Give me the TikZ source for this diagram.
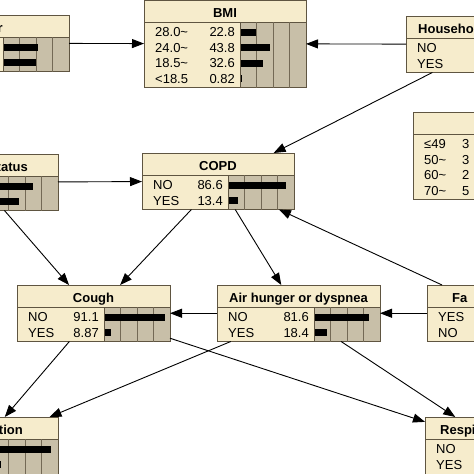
\documentclass[tikz,border=0pt]{standalone}
\usepackage{fontspec}
\setmainfont{Liberation Sans}
\usepackage{tikz}
\usetikzlibrary{positioning,arrows.meta,calc}
\definecolor{nodecol}{RGB}{246,236,204}
\definecolor{barcol}{RGB}{200,191,168}
\definecolor{framecol}{RGB}{95,85,65}
\definecolor{tickcol}{RGB}{115,105,85}

\begin{document}
\begin{tikzpicture}[
  x=1pt, y=-1pt,
  bn/.style={rectangle, draw=framecol, fill=nodecol, line width=1pt, inner sep=0pt,
             outer sep=0pt, minimum width=#1, minimum height=56.5pt},
  ttl/.style={font=\fontsize{13}{15}\selectfont\bfseries, inner sep=0pt, text height=9.3pt, text depth=0pt},
  st/.style={font=\fontsize{13}{15}\selectfont, inner sep=0pt, text height=9.3pt, text depth=0pt},
  hdr/.style={draw=framecol, line width=1pt},
  colline/.style={draw=tickcol, line width=0.7pt},
  ar/.style={-{Triangle[length=12pt, width=9pt]}, line width=0.9pt, black}
]
\useasboundingbox (0,0) rectangle (474,474);
\clip (0,0) rectangle (474,474);

% header rule, bar area and quarter lines of one node
\def\bnbox#1{%
  \draw[hdr] ($(#1.north west)+(0,22)$) -- ($(#1.north east)+(0,22)$);
  \draw[hdr, fill=barcol] ($(#1.north east)+(-66,22)$) rectangle (#1.south east);
  \foreach \q in {1,2,3}
    \draw[colline] ($(#1.north east)+({-66+16.5*\q},22)$) -- ($(#1.south east)+({-66+16.5*\q},0)$);
}
\def\bnbars#1#2{%
  \foreach \p [count=\i] in {#2}
    \fill ($(#1.north east)+(-65,{22+15.5*\i-9})$) rectangle ++({0.66*\p},7);
}
\def\bnlabels#1#2{%
  \foreach \s [count=\i] in {#2}
    \node[st, anchor=west] at ($(#1.north west)+(11,{22+15.5*\i-5.5})$) {\s};
}
\def\bnvals#1#2{%
  \foreach \v [count=\i] in {#2}
    \node[st, anchor=east] at ($(#1.north east)+(-71,{22+15.5*\i-5.5})$) {\v};
}

\node[bn=160pt] (smk) at (-11,43.25) {};
\node[bn=162pt, minimum height=87.5pt] (bmi) at (225,43.75) {};
\node[bn=164pt] (hh) at (488,44.25) {};
\node[bn=156pt] (sts) at (-20,182.25) {};
\node[bn=152pt] (copd) at (218,181.25) {};
\node[bn=144pt, minimum height=87.5pt] (age) at (485,155.75) {};
\node[bn=153pt] (cough) at (93.5,313.25) {};
\node[bn=163pt] (dysp) at (298.5,313.25) {};
\node[bn=152pt] (fam) at (503,313.25) {};
\node[bn=156pt, minimum height=58pt] (expc) at (-20,446) {};
\node[bn=148pt, minimum height=58pt] (resp) at (499,446) {};

\foreach \n in {smk,bmi,hh,sts,copd,age,cough,dysp,fam,expc,resp}
  \bnbox{\n};

% titles
\node[ttl, anchor=east] at ($(smk.north)+(14,12.5)$) {r};
\node[ttl] at ($(bmi.north)+(0,12.5)$) {BMI};
\node[ttl, anchor=west] at ($(hh.north west)+(12,12.5)$) {Househo};
\node[ttl, anchor=east] at ($(sts.north)+(48,12.5)$) {tatus};
\node[ttl] at ($(copd.north)+(0,12.5)$) {COPD};
\node[ttl] at ($(cough.north)+(0,12.5)$) {Cough};
\node[ttl] at ($(dysp.north)+(0,12.5)$) {Air hunger or dyspnea};
\node[ttl, anchor=west] at ($(fam.north west)+(25,12.5)$) {Fa};
\node[ttl, anchor=east] at ($(expc.north)+(43,12.5)$) {tion};
\node[ttl, anchor=west] at ($(resp.north west)+(15,12.5)$) {Respi};

% states
\bnlabels{bmi}{28.0\textasciitilde, 24.0\textasciitilde, 18.5\textasciitilde, <18.5}
\bnvals{bmi}{22.8, 43.8, 32.6, 0.82}
\bnlabels{hh}{NO, YES}
\bnlabels{copd}{NO, YES}
\bnvals{copd}{86.6, 13.4}
\bnlabels{age}{≤49, 50\textasciitilde, 60\textasciitilde, 70\textasciitilde}
\foreach \v [count=\i] in {3,3,2,5}
  \node[st, anchor=west] at ($(age.north west)+(49,{22+15.5*\i-5.5})$) {\v};
\bnlabels{cough}{NO, YES}
\bnvals{cough}{91.1, 8.87}
\bnlabels{dysp}{NO, YES}
\bnvals{dysp}{81.6, 18.4}
\bnlabels{fam}{YES, NO}
\bnlabels{resp}{NO, YES}

% bars
\bnbars{smk}{52, 48}
\bnbars{bmi}{22.8, 43.8, 32.6, 0.82}
\bnbars{sts}{60, 40}
\bnbars{copd}{86.6, 13.4}
\bnbars{cough}{91.1, 8.87}
\bnbars{dysp}{81.6, 18.4}
\bnbars{expc}{88, 12}

\foreach \a/\b in {smk/bmi, hh/bmi, hh/copd, sts/copd, sts/cough, fam/copd, copd/cough,
                   copd/dysp, fam/dysp, dysp/cough, cough/expc, dysp/expc, cough/resp, dysp/resp}
  \draw[ar] (\a) -- (\b);

\end{tikzpicture}
\end{document}
